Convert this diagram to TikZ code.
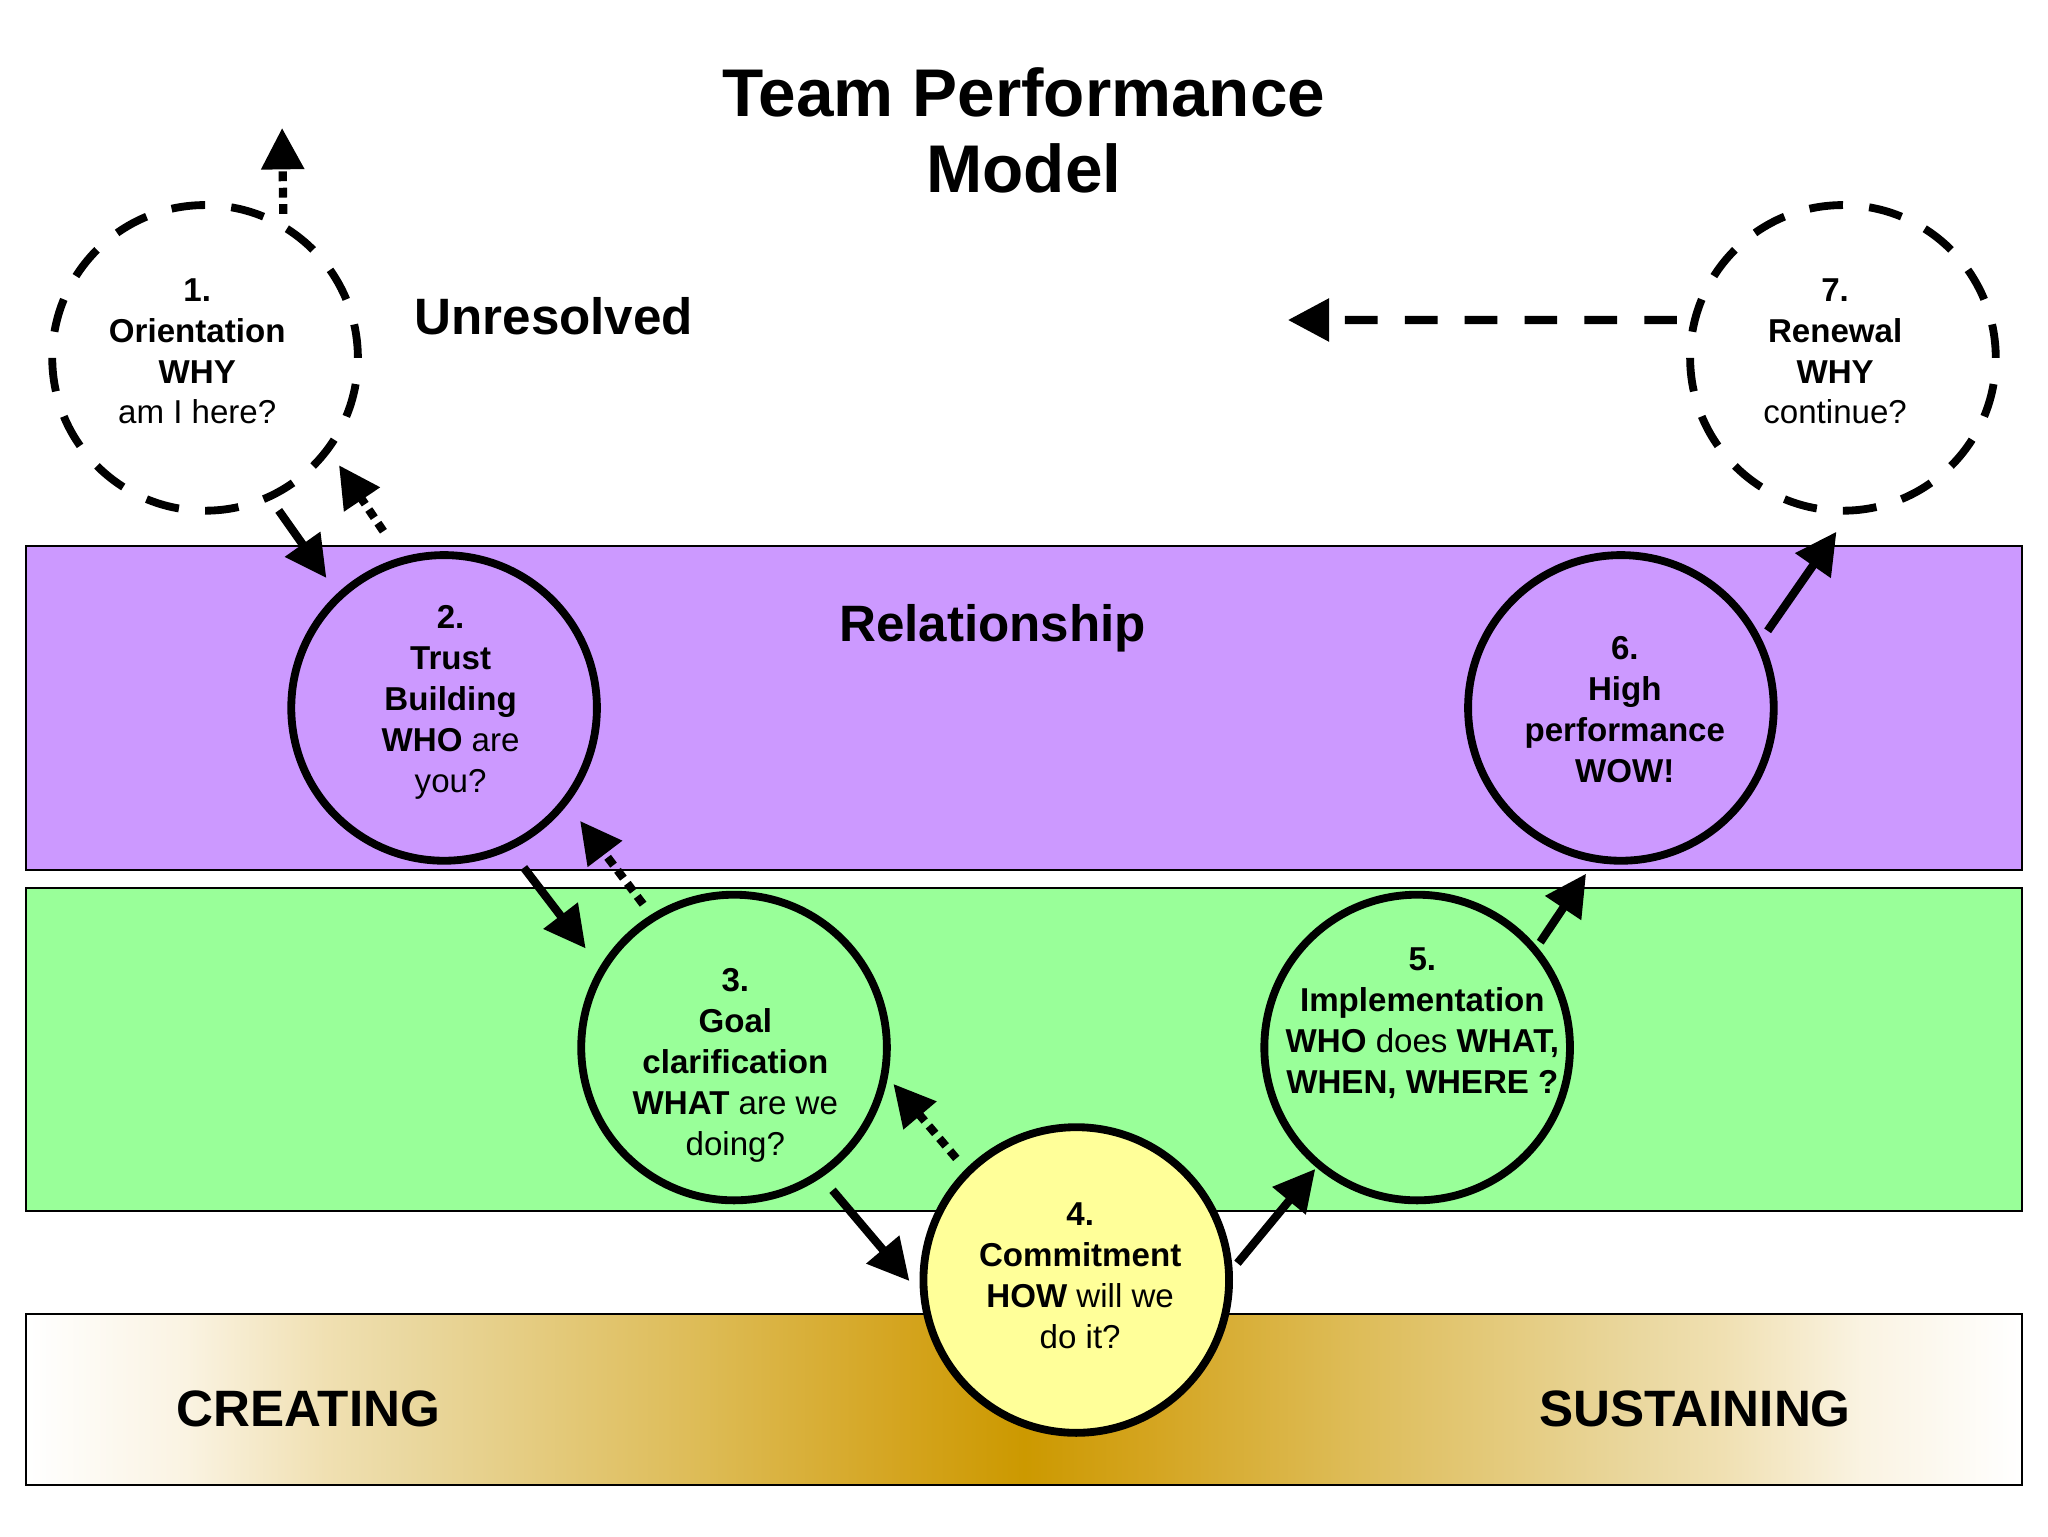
\documentclass[tikz,border=0pt]{standalone}
\usepackage{fontspec}
\setmainfont{Liberation Sans}
\usetikzlibrary{arrows.meta}
\definecolor{relpurple}{HTML}{CC99FF}
\definecolor{taskgreen}{HTML}{99FF99}
\definecolor{commityellow}{HTML}{FFFF99}
\definecolor{goldA}{HTML}{FAF3E2}
\definecolor{goldB}{HTML}{F0E0B2}
\definecolor{goldC}{HTML}{EAD8A0}
\definecolor{goldD}{HTML}{DDBB55}
\definecolor{goldE}{HTML}{D4A41E}
\definecolor{goldF}{HTML}{CC9900}
\pgfdeclarehorizontalshading{goldband}{100bp}{color(0bp)=(white); color(25bp)=(white); color(29bp)=(goldA); color(32.5bp)=(goldB); color(34.5bp)=(goldC); color(42bp)=(goldD); color(47bp)=(goldE); color(50bp)=(goldF); color(53bp)=(goldE); color(58bp)=(goldD); color(65.5bp)=(goldC); color(67.5bp)=(goldB); color(71bp)=(goldA); color(75bp)=(white); color(100bp)=(white)}
\newcommand{\stagefont}{\fontsize{15.2}{18.8}\selectfont}
\newcommand{\bandfont}{\fontsize{23.5}{27}\selectfont\bfseries}
\newcommand{\titlefont}{\fontsize{31}{35}\selectfont\bfseries}
\begin{document}
\begin{tikzpicture}[x=0.6pt,y=-0.6pt,
  stage/.style={circle, draw, line width=3.6pt, minimum size=140.4pt, inner sep=0pt},
  openstage/.style={stage, dash pattern=on 15.5pt off 12.07pt},
  stagetext/.style={font=\stagefont, align=center, inner sep=0pt},
  bandlabel/.style={font=\bandfont, inner sep=0pt},
  band/.style={line width=1pt, draw=black},
  flow/.style={line width=3.8pt, -{Triangle[length=19pt,width=19pt]}},
  back/.style={flow, dash pattern=on 4.5pt off 3pt},
  fwddash/.style={flow, dash pattern=on 15pt off 12.5pt}
]
\useasboundingbox (0,0) rectangle (1568,1176);
\fill[white] (0,0) rectangle (1568,1176);

% bands
\filldraw[band, fill=relpurple] (20,418) rectangle (1548,666);
\filldraw[band, fill=taskgreen] (20,680) rectangle (1548,927);
\shadedraw[band, shading=goldband] (20,1006) rectangle (1548,1137);

% titles and band labels
\node[font=\titlefont, anchor=base, inner sep=0pt] (title1) at (784,89) {Team Performance};
\node[font=\titlefont, anchor=base, inner sep=0pt] (title2) at (784,147) {Model};
\node[bandlabel, anchor=base west] (unres) at (317,256) {Unresolved};
\node[bandlabel, anchor=base] (relat) at (760,491) {Relationship};
\node[bandlabel, anchor=base west] (creat) at (135,1092) {CREATING};
\node[bandlabel, anchor=base west] (sustain) at (1178,1092) {SUSTAINING};

% stage circles
\node[openstage] (c1) at (157,274) {};
\node[stage, fill=relpurple] (c2) at (340,542) {};
\node[stage, fill=taskgreen] (c3) at (562,802) {};
\node[stage, fill=commityellow] (c4) at (824,980) {};
\node[stage, fill=taskgreen] (c5) at (1085,802) {};
\node[stage, fill=relpurple] (c6) at (1241,542) {};
\node[openstage] (c7) at (1411,274) {};

% stage texts
\node[stagetext] (t1) at (151,269) {\textbf{1.}\\\textbf{Orientation}\\\textbf{WHY}\\am I here?};
\node[stagetext] (t2) at (345,537.5) {\textbf{2.}\\\textbf{Trust}\\\textbf{Building}\\\textbf{WHO} are\\you?};
\node[stagetext] (t3) at (563,815.5) {\textbf{3.}\\\textbf{Goal}\\\textbf{clarification}\\\textbf{WHAT} are we\\doing?};
\node[stagetext] (t4) at (827,977) {\textbf{4.}\\\textbf{Commitment}\\\textbf{HOW} will we\\do it?};
\node[stagetext] (t5) at (1089,783.5) {\textbf{5.}\\\textbf{Implementation}\\\textbf{WHO} does \textbf{WHAT,}\\\textbf{WHEN, WHERE ?}};
\node[stagetext] (t6) at (1244,543.5) {\textbf{6.}\\\textbf{High}\\\textbf{performance}\\\textbf{WOW!}};
\node[stagetext] (t7) at (1405,269) {\textbf{7.}\\\textbf{Renewal}\\\textbf{WHY}\\continue?};

% free ends
\coordinate (upend) at (216,98);
\coordinate (leftend) at (986,245);

% connectors
\draw[back, shorten <=3.8pt] (c1.60.6) -- (upend);
\draw[fwddash, shorten <=6.4pt] (c7.166) -- (leftend);
\draw[flow, shorten <=5.9pt, shorten >=8.6pt] (c1.-65.4) -- (c2.133.2);
\draw[back, shorten <=14.4pt, shorten >=7.2pt] (c2.106.5) -- (c1.-37.3);
\draw[flow, shorten <=10.2pt, shorten >=10.6pt] (c2.-65.9) -- (c3.149);
\draw[back, shorten <=6pt, shorten >=9.5pt] (c3.122.2) -- (c2.-38.7);
\draw[flow, shorten <=7.7pt, shorten >=7.6pt] (c3.-56.7) -- (c4.185.4);
\draw[back, shorten <=6.5pt, shorten >=3.9pt] (c4.135.3) -- (c3.-11.4);
\draw[flow, shorten <=3.5pt, shorten >=0.8pt] (c4.4.6) -- (c5.-130);
\draw[flow, shorten <=2.5pt, shorten >=6.3pt] (c5.40.8) -- (c6.-100.1);
\draw[flow, shorten <=4.7pt, shorten >=9.6pt] (c6.26) -- (c7.-88.7);
\end{tikzpicture}
\end{document}
